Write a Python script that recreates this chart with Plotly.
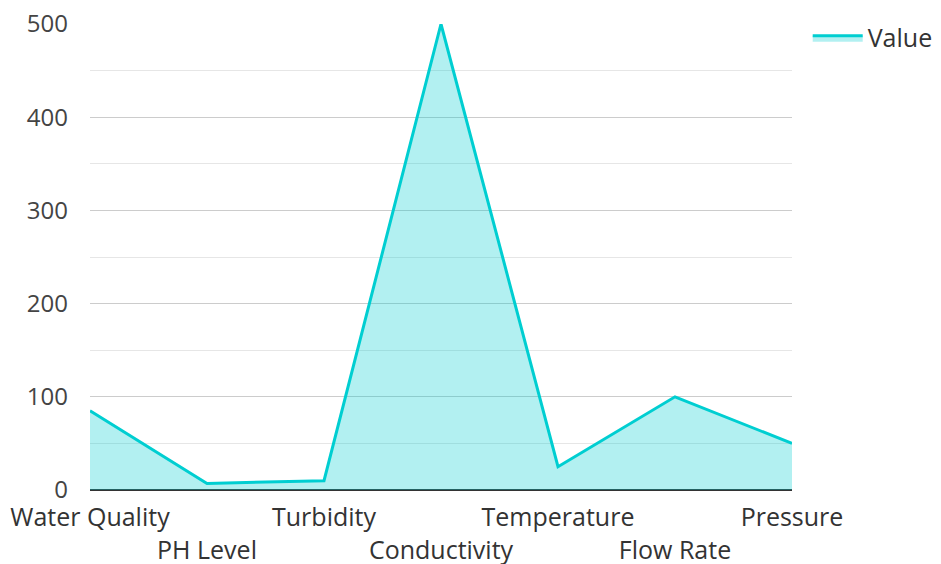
import plotly.graph_objects as go

categories = ["Water Quality", "PH Level", "Turbidity", "Conductivity", "Temperature", "Flow Rate", "Pressure"]
values = [85, 7, 10, 500, 25, 100, 50]
series_name = "Value"

ticktext = [c if i % 2 == 0 else "<br>" + c for i, c in enumerate(categories)]

fig = go.Figure()
fig.add_trace(go.Scatter(
    x=categories, y=values, name=series_name, mode="lines",
    line=dict(color="#00CED1", width=3),
    fill="tozeroy", fillcolor="rgba(0,206,209,0.3)",
))

fig.update_layout(
    width=941, height=564,
    margin=dict(l=82, r=157, t=16, b=82),
    paper_bgcolor="white", plot_bgcolor="white",
    font=dict(family="Open Sans", size=25, color="#333333"),
    showlegend=True,
    legend=dict(xref="container", yref="container", x=0.988, y=0.9876,
                xanchor="right", yanchor="top", itemwidth=50,
                font=dict(size=25, color="#333333")),
)
fig.update_xaxes(
    type="category", range=[0, len(categories) - 1],
    tickmode="array", tickvals=categories, ticktext=ticktext,
    tickangle=0, automargin=False, ticklabelstandoff=10,
    showgrid=False, showline=False, ticks="", tickfont=dict(color="#333333", size=25),
)
fig.update_yaxes(
    range=[0, 500], tickvals=[0, 100, 200, 300, 400, 500],
    automargin=False, ticklabelstandoff=21, ticklabeloverflow="allow",
    showgrid=True, gridcolor="#cccccc", gridwidth=1,
    minor=dict(tickvals=[50, 150, 250, 350, 450], showgrid=True, gridcolor="#e6e6e6", gridwidth=1),
    zeroline=True, zerolinecolor="#333333", zerolinewidth=2,
    ticks="", tickfont=dict(color="#444444", size=24),
)

fig.write_html("out.html")
